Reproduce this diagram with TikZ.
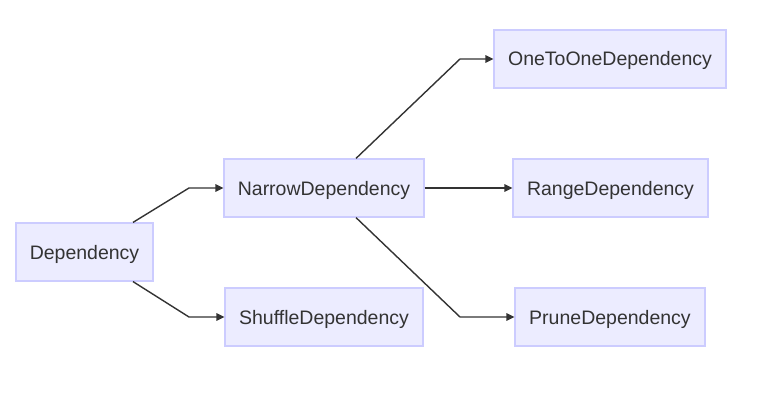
\documentclass[tikz,border=0pt]{standalone}
\usepackage{fontspec}
\setmainfont{Liberation Sans}
\usetikzlibrary{arrows.meta}
\definecolor{nodefill}{HTML}{ECECFF}
\definecolor{nodeline}{HTML}{CCCCFF}
\definecolor{ink}{HTML}{333333}
\tikzset{
  box/.style={draw=nodeline, fill=nodefill, line width=1.2pt, text=ink,
    font=\fontsize{19.5}{23}\selectfont, inner sep=0pt, anchor=center,
    text height=16pt, text depth=2pt},
  link/.style={draw=ink, line width=1.4pt, -{Triangle[length=8pt,width=7.5pt]}}
}
\begin{document}
\begin{tikzpicture}[x=1pt,y=-1pt]
\useasboundingbox (0,0) rectangle (758,412);
\node[box, minimum width=137pt, minimum height=58pt] (dep) at (84.5,252) {Dependency};
\node[box, minimum width=200pt, minimum height=58pt] (narrow) at (324,188) {NarrowDependency};
\node[box, minimum width=198pt, minimum height=58pt] (shuffle) at (324,317) {ShuffleDependency};
\node[box, minimum width=232pt, minimum height=58pt] (one) at (610,59) {OneToOneDependency};
\node[box, minimum width=195pt, minimum height=58pt] (range) at (610.5,188) {RangeDependency};
\node[box, minimum width=190pt, minimum height=58pt] (prune) at (610,317) {PruneDependency};
\coordinate (c1) at (189,188);
\coordinate (c2) at (189,317);
\coordinate (c3) at (460,59);
\coordinate (c4) at (460,317);
\draw[link] ([xshift=48.5pt]dep.north) -- (c1) -- (narrow.west);
\draw[link] ([xshift=48.5pt]dep.south) -- (c2) -- (shuffle.west);
\draw[link] ([xshift=32pt]narrow.north) -- (c3) -- (one.west);
\draw[link] (narrow.east) -- (range.west);
\draw[link] ([xshift=32pt]narrow.south) -- (c4) -- (prune.west);
\end{tikzpicture}
\end{document}
